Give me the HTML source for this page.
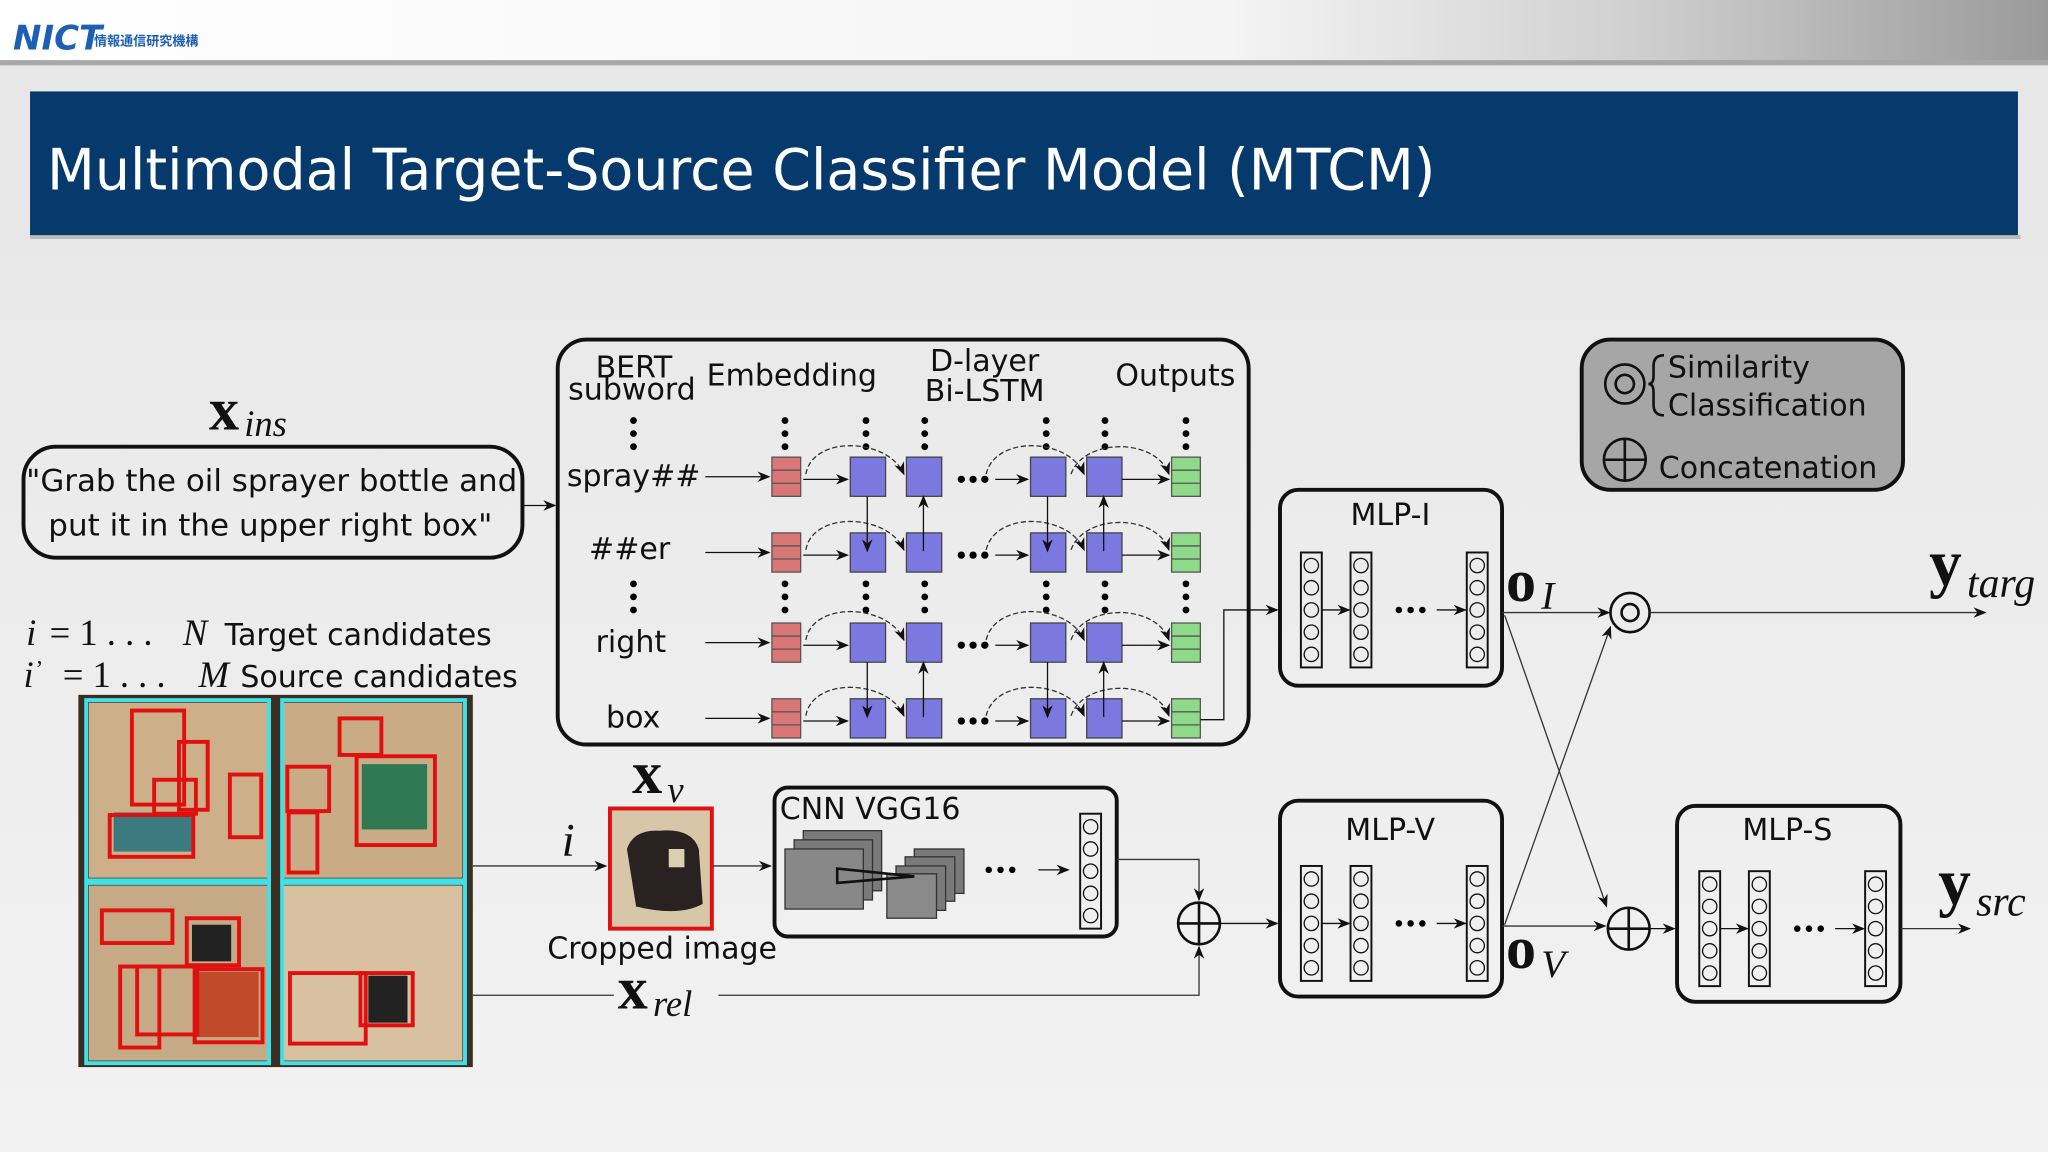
<!DOCTYPE html>
<html><head><meta charset="utf-8"><style>
html,body{margin:0;padding:0;background:#ececec;}
svg{display:block}
text{font-family:"DejaVu Sans","Liberation Sans",sans-serif;fill:#111}
.m{font-family:"Liberation Serif","DejaVu Serif",serif}
</style></head><body>
<svg width="2048" height="1152" viewBox="0 0 1568 882" xmlns="http://www.w3.org/2000/svg">
<defs>
<linearGradient id="hd" x1="0" x2="1" y1="0" y2="0">
<stop offset="0" stop-color="#ffffff"/><stop offset="0.6" stop-color="#f4f4f4"/><stop offset="0.8" stop-color="#cfcfcf"/><stop offset="1" stop-color="#9a9a9a"/></linearGradient>
<linearGradient id="bg" x1="0" x2="0" y1="0" y2="1">
<stop offset="0" stop-color="#e6e6e6"/><stop offset="1" stop-color="#f2f2f2"/></linearGradient>
<marker id="a" markerWidth="10" markerHeight="8" refX="9" refY="4" orient="auto" markerUnits="userSpaceOnUse"><path d="M0,0 L10,4 L0,8 L3,4 z" fill="#111"/></marker>
<g id="col"><rect x="0" y="0" width="16" height="88" fill="none" stroke="#111" stroke-width="1.5"/>
<circle cx="8" cy="10" r="5.5" fill="none" stroke="#111"/><circle cx="8" cy="27" r="5.5" fill="none" stroke="#111"/><circle cx="8" cy="44" r="5.5" fill="none" stroke="#111"/><circle cx="8" cy="61" r="5.5" fill="none" stroke="#111"/><circle cx="8" cy="78" r="5.5" fill="none" stroke="#111"/></g>
<g id="mlp">
<use href="#col" x="16" y="48"/><use href="#col" x="54" y="48"/><use href="#col" x="143" y="48"/>
<line x1="32" y1="92" x2="53" y2="92" stroke="#111" marker-end="url(#a)"/>
<circle cx="91" cy="92" r="2.5"/><circle cx="100" cy="92" r="2.5"/><circle cx="109" cy="92" r="2.5"/>
<line x1="120" y1="92" x2="142" y2="92" stroke="#111" marker-end="url(#a)"/>
</g>
<g id="row">
<line x1="540" y1="0" x2="589" y2="0" stroke="#111" marker-end="url(#a)"/>
<rect x="591" y="-15" width="22" height="30" fill="#d97777" stroke="#555"/><line x1="591" y1="-5" x2="613" y2="-5" stroke="#555"/><line x1="591" y1="5" x2="613" y2="5" stroke="#555"/>
<line x1="615" y1="2" x2="649" y2="2" stroke="#111" marker-end="url(#a)"/>
<rect x="651" y="-15" width="27" height="30" fill="#7b79df" stroke="#444"/>
<rect x="694" y="-15" width="27" height="30" fill="#7b79df" stroke="#444"/>
<path d="M617,-2 C622,-32 680,-30 692,-2" fill="none" stroke="#333" stroke-dasharray="4,2" marker-end="url(#a)"/>
<circle cx="736" cy="2" r="2.8"/><circle cx="745" cy="2" r="2.8"/><circle cx="754" cy="2" r="2.8"/>
<line x1="762" y1="2" x2="787" y2="2" stroke="#111" marker-end="url(#a)"/>
<rect x="789" y="-15" width="27" height="30" fill="#7b79df" stroke="#444"/>
<rect x="832" y="-15" width="27" height="30" fill="#7b79df" stroke="#444"/>
<path d="M755,-2 C762,-32 818,-30 830,-2" fill="none" stroke="#333" stroke-dasharray="4,2" marker-end="url(#a)"/>
<path d="M820,-2 C830,-30 885,-30 895,-2" fill="none" stroke="#333" stroke-dasharray="4,2" marker-end="url(#a)"/>
<line x1="859" y1="2" x2="895" y2="2" stroke="#111" marker-end="url(#a)"/>
<rect x="897" y="-15" width="22" height="30" fill="#8fd98a" stroke="#555"/><line x1="897" y1="-5" x2="919" y2="-5" stroke="#555"/><line x1="897" y1="5" x2="919" y2="5" stroke="#555"/>
</g>
<g id="dots"><circle cx="485" cy="0" r="2.6"/><circle cx="485" cy="10" r="2.6"/><circle cx="485" cy="20" r="2.6"/>
<circle cx="601" cy="0" r="2.6"/><circle cx="601" cy="10" r="2.6"/><circle cx="601" cy="20" r="2.6"/>
<circle cx="663" cy="0" r="2.6"/><circle cx="663" cy="10" r="2.6"/><circle cx="663" cy="20" r="2.6"/>
<circle cx="708" cy="0" r="2.6"/><circle cx="708" cy="10" r="2.6"/><circle cx="708" cy="20" r="2.6"/>
<circle cx="801" cy="0" r="2.6"/><circle cx="801" cy="10" r="2.6"/><circle cx="801" cy="20" r="2.6"/>
<circle cx="846" cy="0" r="2.6"/><circle cx="846" cy="10" r="2.6"/><circle cx="846" cy="20" r="2.6"/>
<circle cx="908" cy="0" r="2.6"/><circle cx="908" cy="10" r="2.6"/><circle cx="908" cy="20" r="2.6"/></g>
<g id="vert">
<line x1="664" y1="0" x2="664" y2="42" stroke="#111" marker-end="url(#a)"/>
<line x1="707" y1="42" x2="707" y2="0" stroke="#111" marker-end="url(#a)"/>
<line x1="802" y1="0" x2="802" y2="42" stroke="#111" marker-end="url(#a)"/>
<line x1="845" y1="42" x2="845" y2="0" stroke="#111" marker-end="url(#a)"/>
</g>
</defs>

<rect x="0" y="0" width="1568" height="882" fill="url(#bg)"/>
<rect x="0" y="0" width="1568" height="48" fill="url(#hd)"/>
<rect x="0" y="46" width="1568" height="4" fill="#a8a8a8"/>
<text x="10" y="38" font-size="26" font-style="italic" font-weight="bold" style="fill:#1d5fb5">NICT</text>
<text x="72" y="35" font-size="10" font-weight="bold" style="fill:#1d5fb5;font-family:'Noto Sans CJK JP',sans-serif">情報通信研究機構</text>

<rect x="23" y="70" width="1522" height="112" fill="#063a6c"/>
<rect x="23" y="180" width="1524" height="3" fill="#bbb"/>
<text x="36" y="145" font-size="44" textLength="1063" lengthAdjust="spacingAndGlyphs" style="fill:#fff">Multimodal Target-Source Classifier Model (MTCM)</text>

<!-- LSTM box -->
<rect x="427" y="260" width="529" height="310" rx="22" fill="none" stroke="#111" stroke-width="3"/>
<text x="456" y="289" font-size="23">BERT</text>
<text x="435" y="306" font-size="23">subword</text>
<text x="541" y="295" font-size="23">Embedding</text>
<text x="712" y="284" font-size="23">D-layer</text>
<text x="708" y="307" font-size="23">Bi-LSTM</text>
<text x="854" y="295" font-size="23">Outputs</text>
<use href="#dots" y="322"/>
<use href="#dots" y="447"/>
<text x="434" y="372" font-size="23">spray##</text>
<text x="451" y="428" font-size="23">##er</text>
<text x="456" y="499" font-size="23">right</text>
<text x="464" y="557" font-size="23">box</text>
<use href="#row" y="365"/>
<use href="#row" y="423"/>
<use href="#row" y="492"/>
<use href="#row" y="550"/>
<use href="#vert" y="380"/>
<use href="#vert" y="507"/>
<polyline points="919,551 937,551 937,467 978,467" fill="none" stroke="#111" marker-end="url(#a)"/>

<!-- instruction -->
<text x="160" y="329" font-size="46" font-weight="bold" class="m">x</text>
<text x="187" y="334" font-size="28" font-style="italic" class="m">ins</text>
<rect x="18" y="342" width="382" height="85" rx="25" fill="none" stroke="#111" stroke-width="3"/>
<text x="20" y="376" font-size="23" textLength="376" lengthAdjust="spacingAndGlyphs">"Grab the oil sprayer bottle and</text>
<text x="37" y="410" font-size="23" textLength="340" lengthAdjust="spacingAndGlyphs">put it in the upper right box"</text>
<line x1="400" y1="387" x2="425" y2="387" stroke="#111" marker-end="url(#a)"/>

<text x="20" y="494" font-size="28" font-style="italic" class="m">i</text>
<text x="38" y="494" font-size="28" class="m">= 1 . . .</text>
<text x="140" y="494" font-size="28" font-style="italic" class="m">N</text>
<text x="172" y="494" font-size="23">Target candidates</text>
<text x="18" y="526" font-size="28" font-style="italic" class="m">i</text>
<text x="28" y="508" font-size="18" class="m">,</text>
<text x="48" y="526" font-size="28" class="m">= 1 . . .</text>
<text x="152" y="526" font-size="28" font-style="italic" class="m">M</text>
<text x="184" y="526" font-size="23">Source candidates</text>

<!-- tray image -->
<rect x="60" y="532" width="302" height="285" fill="#3a2e22"/>
<rect x="68" y="538" width="138" height="134" fill="#cdb08a"/>
<rect x="216" y="538" width="138" height="134" fill="#c9ab85"/>
<rect x="68" y="678" width="138" height="134" fill="#c6a985"/>
<rect x="216" y="678" width="138" height="134" fill="#d8c1a0"/>
<g fill="none" stroke="#3fe0e8" stroke-width="3">
<rect x="66" y="536" width="140" height="138"/><rect x="216" y="536" width="140" height="138"/>
<rect x="66" y="676" width="140" height="138"/><rect x="216" y="676" width="140" height="138"/></g>
<rect x="87" y="622" width="60" height="30" fill="#3c7a80"/>
<rect x="277" y="585" width="50" height="50" fill="#2f7a55"/>
<rect x="147" y="708" width="30" height="28" fill="#222"/>
<rect x="282" y="747" width="30" height="36" fill="#222"/>
<rect x="148" y="744" width="50" height="50" fill="#c04a2a"/>
<g fill="none" stroke="#e01010" stroke-width="3">
<rect x="101" y="544" width="40" height="72"/><rect x="118" y="597" width="32" height="26"/>
<rect x="84" y="624" width="64" height="32"/><rect x="176" y="593" width="24" height="48"/>
<rect x="137" y="568" width="22" height="52"/><rect x="260" y="550" width="32" height="28"/>
<rect x="273" y="579" width="60" height="68"/><rect x="220" y="587" width="32" height="34"/>
<rect x="221" y="622" width="22" height="46"/><rect x="78" y="697" width="54" height="25"/>
<rect x="143" y="703" width="40" height="36"/><rect x="92" y="740" width="30" height="62"/>
<rect x="105" y="740" width="46" height="52"/><rect x="149" y="742" width="52" height="56"/>
<rect x="222" y="745" width="58" height="54"/><rect x="276" y="745" width="40" height="40"/></g>

<!-- crop path -->
<line x1="362" y1="663" x2="464" y2="663" stroke="#333" marker-end="url(#a)"/>
<text x="430" y="655" font-size="36" font-style="italic" class="m">i</text>
<text x="484" y="607" font-size="46" font-weight="bold" class="m">x</text>
<text x="511" y="614" font-size="28" font-style="italic" class="m">v</text>
<rect x="467" y="619" width="78" height="92" fill="#d8c6a8" stroke="#e01010" stroke-width="3"/>
<path d="M480,650 Q485,635 505,636 Q530,634 535,650 L538,692 Q520,702 487,694 Z" fill="#2a2220"/>
<rect x="512" y="650" width="12" height="14" fill="#d8d0b0"/>
<line x1="546" y1="663" x2="590" y2="663" stroke="#333" marker-end="url(#a)"/>
<text x="419" y="734" font-size="23">Cropped image</text>

<!-- CNN -->
<rect x="593" y="603" width="262" height="114" rx="10" fill="none" stroke="#111" stroke-width="3"/>
<text x="597" y="627" font-size="23">CNN VGG16</text>
<g stroke="#333" fill="#7a7a7a">
<rect x="615" y="636" width="60" height="46"/><rect x="608" y="643" width="60" height="46"/><rect x="601" y="650" width="60" height="46" fill="#888"/>
<rect x="700" y="650" width="38" height="34"/><rect x="693" y="656" width="38" height="34"/><rect x="686" y="663" width="38" height="34"/><rect x="679" y="669" width="38" height="34" fill="#8a8a8a"/>
</g>
<path d="M641,665 L641,676 L700,671 Z" fill="none" stroke="#111" stroke-width="2"/>
<circle cx="757" cy="666" r="2.5"/><circle cx="766" cy="666" r="2.5"/><circle cx="775" cy="666" r="2.5"/>
<line x1="795" y1="666" x2="818" y2="666" stroke="#111" marker-end="url(#a)"/>
<use href="#col" x="827" y="623"/>
<polyline points="855,658 918,658 918,689" fill="none" stroke="#333" marker-end="url(#a)"/>
<line x1="362" y1="762" x2="470" y2="762" stroke="#333"/>
<text x="473" y="772" font-size="46" font-weight="bold" class="m">x</text>
<text x="500" y="778" font-size="28" font-style="italic" class="m">rel</text>
<polyline points="550,762 918,762 918,725" fill="none" stroke="#333" marker-end="url(#a)"/>
<circle cx="918" cy="707" r="16" fill="none" stroke="#111" stroke-width="2"/>
<line x1="902" y1="707" x2="934" y2="707" stroke="#111" stroke-width="2"/><line x1="918" y1="691" x2="918" y2="723" stroke="#111" stroke-width="2"/>
<line x1="934" y1="707" x2="978" y2="707" stroke="#111" marker-end="url(#a)"/>

<!-- MLPs -->
<rect x="980" y="375" width="170" height="150" rx="14" fill="none" stroke="#111" stroke-width="3"/>
<text x="1034" y="402" font-size="23">MLP-I</text>
<use href="#mlp" x="980" y="375"/>
<rect x="980" y="613" width="170" height="150" rx="14" fill="none" stroke="#111" stroke-width="3"/>
<text x="1030" y="643" font-size="23">MLP-V</text>
<use href="#mlp" x="980" y="615"/>
<rect x="1284" y="617" width="171" height="150" rx="14" fill="none" stroke="#111" stroke-width="3"/>
<text x="1334" y="643" font-size="23">MLP-S</text>
<use href="#mlp" x="1285" y="619"/>

<text x="1153" y="460" font-size="46" font-weight="bold" class="m">o</text>
<text x="1180" y="466" font-size="30" font-style="italic" class="m">I</text>
<text x="1153" y="741" font-size="46" font-weight="bold" class="m">o</text>
<text x="1180" y="748" font-size="30" font-style="italic" class="m">V</text>

<line x1="1150" y1="469" x2="1232" y2="469" stroke="#333" marker-end="url(#a)"/>
<circle cx="1248" cy="469" r="15" fill="none" stroke="#111" stroke-width="2"/><circle cx="1248" cy="469" r="6.5" fill="none" stroke="#111" stroke-width="2"/>
<line x1="1263" y1="469" x2="1520" y2="469" stroke="#333" marker-end="url(#a)"/>
<line x1="1152" y1="471" x2="1230" y2="694" stroke="#333" marker-end="url(#a)"/>
<line x1="1152" y1="708" x2="1233" y2="480" stroke="#333" marker-end="url(#a)"/>
<line x1="1150" y1="709" x2="1229" y2="709" stroke="#333" marker-end="url(#a)"/>
<circle cx="1247" cy="711" r="16" fill="none" stroke="#111" stroke-width="2"/>
<line x1="1231" y1="711" x2="1263" y2="711" stroke="#111" stroke-width="2"/><line x1="1247" y1="695" x2="1247" y2="727" stroke="#111" stroke-width="2"/>
<line x1="1263" y1="711" x2="1282" y2="711" stroke="#111" marker-end="url(#a)"/>
<line x1="1455" y1="711" x2="1508" y2="711" stroke="#333" marker-end="url(#a)"/>
<text x="1477" y="448" font-size="50" font-weight="bold" class="m">y</text>
<text x="1506" y="457" font-size="32" font-style="italic" class="m">targ</text>
<text x="1484" y="692" font-size="50" font-weight="bold" class="m">y</text>
<text x="1513" y="701" font-size="32" font-style="italic" class="m">src</text>

<!-- legend -->
<rect x="1211" y="260" width="246" height="115" rx="22" fill="#a6a6a6" stroke="#111" stroke-width="3"/>
<circle cx="1244" cy="294" r="15" fill="none" stroke="#111" stroke-width="2"/><circle cx="1244" cy="294" r="7" fill="none" stroke="#111" stroke-width="2"/>
<path d="M1274,272 Q1266,272 1266,280 L1266,288 Q1266,294 1262,294 Q1266,294 1266,300 L1266,310 Q1266,318 1274,318" fill="none" stroke="#111" stroke-width="2"/>
<text x="1277" y="289" font-size="23">Similarity</text>
<text x="1277" y="318" font-size="23">Classification</text>
<circle cx="1244" cy="352" r="16" fill="none" stroke="#111" stroke-width="2"/>
<line x1="1228" y1="352" x2="1260" y2="352" stroke="#111" stroke-width="2"/><line x1="1244" y1="336" x2="1244" y2="368" stroke="#111" stroke-width="2"/>
<text x="1270" y="366" font-size="23">Concatenation</text>
</svg>
</body></html>
